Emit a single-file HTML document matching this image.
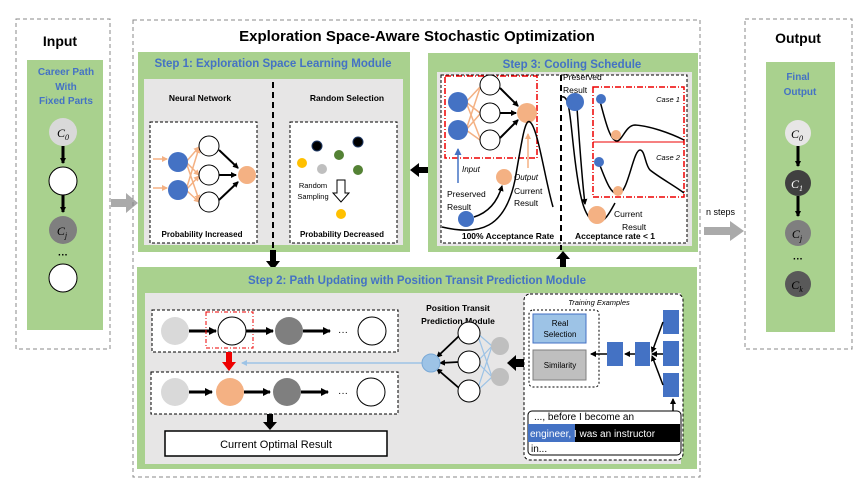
<!DOCTYPE html>
<html><head><meta charset="utf-8"><style>
html,body{margin:0;padding:0;background:#fff;}
svg{display:block;font-family:"Liberation Sans",sans-serif;}
</style></head><body>
<svg width="866" height="493" viewBox="0 0 866 493" xmlns="http://www.w3.org/2000/svg">
<defs>
<marker id="ab" markerWidth="6" markerHeight="6" refX="5" refY="3" orient="auto" markerUnits="userSpaceOnUse"><path d="M0,0 L6,3 L0,6 z" fill="#000"/></marker>
<marker id="abk" markerWidth="8" markerHeight="8" refX="7" refY="4" orient="auto" markerUnits="userSpaceOnUse"><path d="M0,0 L8,4 L0,8 z" fill="#000"/></marker>
<marker id="ao" markerWidth="6" markerHeight="6" refX="5" refY="3" orient="auto" markerUnits="userSpaceOnUse"><path d="M0,0 L6,3 L0,6 z" fill="#f4b183"/></marker>
<marker id="abl" markerWidth="7" markerHeight="7" refX="6" refY="3.5" orient="auto" markerUnits="userSpaceOnUse"><path d="M0,0 L7,3.5 L0,7 z" fill="#4472c4"/></marker>
<marker id="alb" markerWidth="6" markerHeight="6" refX="5" refY="3" orient="auto" markerUnits="userSpaceOnUse"><path d="M0,0 L6,3 L0,6 z" fill="#9dc3e6"/></marker>
</defs>

<!-- Input -->
<rect x="16" y="19" width="94" height="330" fill="none" stroke="#888" stroke-dasharray="4,3"/>
<text x="60" y="46" font-size="14" font-weight="bold" text-anchor="middle">Input</text>
<rect x="27" y="60" width="76" height="270" fill="#a9d18e"/>
<text font-size="10" font-weight="bold" fill="#4472c4" text-anchor="middle"><tspan x="66" y="75">Career Path</tspan><tspan x="66" y="90">With</tspan><tspan x="66" y="104">Fixed Parts</tspan></text>
<circle cx="63" cy="132" r="14" fill="#d9d9d9"/><text x="63" y="137" font-size="12" font-style="italic" text-anchor="middle" font-family="Liberation Serif">C<tspan font-size="8" dy="3">0</tspan></text>
<line x1="63" y1="146" x2="63" y2="163" stroke="#000" stroke-width="3" marker-end="url(#ab)"/>
<circle cx="63" cy="181" r="14" fill="#fff" stroke="#000"/>
<line x1="63" y1="195" x2="63" y2="212" stroke="#000" stroke-width="3" marker-end="url(#ab)"/>
<circle cx="63" cy="230" r="14" fill="#7f7f7f"/><text x="62" y="235" font-size="12" font-style="italic" text-anchor="middle" font-family="Liberation Serif">C<tspan font-size="8" dy="3">j</tspan></text>
<text x="63" y="258" font-size="10" text-anchor="middle" font-weight="bold">···</text>
<circle cx="63" cy="278" r="14" fill="#fff" stroke="#000"/>
<path d="M111,199 L126,199 L126,193 L138,203 L126,213 L126,207 L111,207 z" fill="#aaa"/>

<!-- Main -->
<rect x="133" y="20" width="567" height="457" fill="none" stroke="#888" stroke-dasharray="4,3"/>
<text x="417" y="41" font-size="15" font-weight="bold" text-anchor="middle">Exploration Space-Aware Stochastic Optimization</text>

<!-- Step 1 -->
<rect x="138" y="52" width="272" height="200" fill="#a9d18e"/>
<rect x="144" y="79" width="259" height="166" fill="#e7e6e6"/>
<text x="273" y="67" font-size="11.5" font-weight="bold" fill="#4472c4" text-anchor="middle">Step 1: Exploration Space Learning Module</text>
<line x1="273" y1="82" x2="273" y2="250" stroke="#000" stroke-width="2" stroke-dasharray="6,4"/>
<text x="200" y="101" font-size="8.5" font-weight="bold" text-anchor="middle">Neural Network</text>
<text x="347" y="101" font-size="8.5" font-weight="bold" text-anchor="middle">Random Selection</text>
<rect x="150" y="122" width="107" height="121" fill="#fff" stroke="#000" stroke-dasharray="3,2"/>
<rect x="290" y="122" width="107" height="121" fill="#fff" stroke="#000" stroke-dasharray="3,2"/>
<g stroke="#f4b183" stroke-width="1.5">
<line x1="153" y1="159" x2="167" y2="159" marker-end="url(#ao)"/><line x1="153" y1="188" x2="167" y2="188" marker-end="url(#ao)"/>
<line x1="186" y1="162" x2="199" y2="147" marker-end="url(#ao)"/><line x1="186" y1="162" x2="199" y2="175" marker-end="url(#ao)"/><line x1="186" y1="162" x2="199" y2="200" marker-end="url(#ao)"/>
<line x1="186" y1="190" x2="199" y2="148" marker-end="url(#ao)"/><line x1="186" y1="190" x2="199" y2="176" marker-end="url(#ao)"/><line x1="186" y1="190" x2="199" y2="202" marker-end="url(#ao)"/>
</g>
<circle cx="178" cy="162" r="10" fill="#4472c4"/><circle cx="178" cy="190" r="10" fill="#4472c4"/>
<g stroke="#000" stroke-width="2"><line x1="219" y1="150" x2="238" y2="168" marker-end="url(#ab)"/><line x1="219" y1="175" x2="236" y2="175" marker-end="url(#ab)"/><line x1="219" y1="200" x2="238" y2="182" marker-end="url(#ab)"/></g>
<circle cx="209" cy="146" r="10" fill="#fff" stroke="#000"/><circle cx="209" cy="175" r="10" fill="#fff" stroke="#000"/><circle cx="209" cy="202" r="10" fill="#fff" stroke="#000"/>
<circle cx="247" cy="175" r="9" fill="#f4b183"/>
<text x="202" y="237" font-size="8" font-weight="bold" text-anchor="middle">Probability Increased</text>
<circle cx="317" cy="146" r="5" fill="#000" stroke="#1f3864"/><circle cx="358" cy="142" r="5" fill="#000" stroke="#1f3864"/>
<circle cx="339" cy="155" r="5" fill="#548235"/><circle cx="358" cy="170" r="5" fill="#548235"/>
<circle cx="302" cy="163" r="5" fill="#ffc000"/><circle cx="322" cy="169" r="5" fill="#bfbfbf"/><circle cx="341" cy="214" r="5" fill="#ffc000"/>
<text font-size="7.5" text-anchor="middle"><tspan x="313" y="188">Random</tspan><tspan x="313" y="199">Sampling</tspan></text>
<path d="M337,180 L345,180 L345,193 L349,193 L341,202 L333,193 L337,193 z" fill="#fff" stroke="#000"/>
<text x="342" y="237" font-size="8" font-weight="bold" text-anchor="middle">Probability Decreased</text>

<!-- Step 3 -->
<rect x="428" y="53" width="270" height="199" fill="#a9d18e"/>
<rect x="437" y="72" width="255" height="174" fill="#e7e6e6"/>
<text x="572" y="68" font-size="11.5" font-weight="bold" fill="#4472c4" text-anchor="middle">Step 3: Cooling Schedule</text>
<rect x="441" y="75" width="246" height="168" fill="#fff" stroke="#000" stroke-dasharray="3,2"/>
<line x1="561" y1="75" x2="561" y2="250" stroke="#000" stroke-width="2" stroke-dasharray="6,4"/>
<rect x="445" y="76" width="92" height="82" fill="none" stroke="#e00" stroke-width="1.5" stroke-dasharray="6,2,1,2"/>
<g stroke="#f4b183" stroke-width="1.5">
<line x1="466" y1="102" x2="480" y2="87"/><line x1="466" y1="102" x2="480" y2="113"/><line x1="466" y1="102" x2="480" y2="138"/>
<line x1="466" y1="130" x2="480" y2="88"/><line x1="466" y1="130" x2="480" y2="114"/><line x1="466" y1="130" x2="480" y2="140"/>
</g>
<circle cx="458" cy="102" r="10" fill="#4472c4"/><circle cx="458" cy="130" r="10" fill="#4472c4"/>
<g stroke="#000" stroke-width="2"><line x1="500" y1="88" x2="518" y2="106" marker-end="url(#ab)"/><line x1="500" y1="113" x2="516" y2="113" marker-end="url(#ab)"/><line x1="500" y1="138" x2="518" y2="120" marker-end="url(#ab)"/></g>
<circle cx="490" cy="85" r="10" fill="#fff" stroke="#000"/><circle cx="490" cy="113" r="10" fill="#fff" stroke="#000"/><circle cx="490" cy="140" r="10" fill="#fff" stroke="#000"/>
<circle cx="527" cy="113" r="10" fill="#f4b183"/>
<line x1="458" y1="183" x2="458" y2="149" stroke="#4472c4" stroke-width="1.5" marker-end="url(#abl)"/>
<text x="462" y="172" font-size="8" font-style="italic">Input</text>
<line x1="528" y1="168" x2="528" y2="134" stroke="#f4b183" stroke-width="1.5" marker-end="url(#ao)"/>
<path d="M442,227 C480,236 505,228 515,180 C522,140 525,118 530,122 C538,128 545,180 553,207" fill="none" stroke="#000" stroke-width="1.5"/>
<path d="M474,217 C490,212 498,200 502,186" fill="none" stroke="#000" stroke-width="1.5" marker-end="url(#ab)"/>
<circle cx="504" cy="177" r="8" fill="#f4b183"/>
<circle cx="466" cy="219" r="8" fill="#4472c4"/>
<text x="514" y="180" font-size="8" font-style="italic">Output</text>
<text font-size="8.5"><tspan x="514" y="194">Current</tspan><tspan x="514" y="206">Result</tspan></text>
<text font-size="8.5"><tspan x="447" y="197">Preserved</tspan><tspan x="447" y="210">Result</tspan></text>
<text x="508" y="239" font-size="8.5" font-weight="bold" text-anchor="middle">100% Acceptance Rate</text>
<!-- right panel -->
<text font-size="8.5"><tspan x="563" y="80">Preserved</tspan><tspan x="563" y="93">Result</tspan></text>
<path d="M562,97 C570,95 570,120 575,160 C580,200 585,222 598,222 C605,222 610,212 615,203" fill="none" stroke="#000" stroke-width="1.5"/>
<path d="M577,108 C580,150 582,180 585,204" fill="none" stroke="#000" stroke-width="1.5" marker-end="url(#ab)"/>
<circle cx="575" cy="102" r="9" fill="#4472c4"/>
<circle cx="597" cy="215" r="9" fill="#f4b183"/>
<text font-size="8.5"><tspan x="614" y="217">Current</tspan><tspan x="622" y="230">Result</tspan></text>
<text x="615" y="239" font-size="8.5" font-weight="bold" text-anchor="middle">Acceptance rate &lt; 1</text>
<rect x="593" y="87" width="91" height="110" fill="none" stroke="#e00" stroke-width="1.5" stroke-dasharray="6,2,1,2"/>
<line x1="593" y1="142" x2="684" y2="142" stroke="#e00" stroke-width="1"/>
<text x="668" y="102" font-size="7.5" font-style="italic" text-anchor="middle">Case 1</text>
<text x="668" y="160" font-size="7.5" font-style="italic" text-anchor="middle">Case 2</text>
<path d="M600,101 C605,120 610,141 617,141 C622,141 626,125 635,125 C650,126 670,133 684,140" fill="none" stroke="#000" stroke-width="1.5"/>
<path d="M599,163 C605,178 610,194 618,194 C628,194 633,150 640,150 C645,150 645,165 650,170 C660,178 675,186 684,193" fill="none" stroke="#000" stroke-width="1.5"/>
<circle cx="601" cy="99" r="5" fill="#4472c4"/><circle cx="616" cy="135" r="5" fill="#f4b183"/>
<circle cx="599" cy="162" r="5" fill="#4472c4"/><circle cx="618" cy="191" r="5" fill="#f4b183"/>

<!-- arrows between steps -->
<path d="M410,170 L419,163 L419,167 L428,167 L428,173 L419,173 L419,177 z" fill="#000"/>
<path d="M270,250 L276,250 L276,261 L280,261 L273,270 L266,261 L270,261 z" fill="#000"/>
<path d="M560,267 L566,267 L566,259 L570,259 L563,251 L556,259 L560,259 z" fill="#000"/>

<!-- Step 2 -->
<rect x="137" y="267" width="560" height="202" fill="#a9d18e"/>
<rect x="145" y="293" width="536" height="171" fill="#e7e6e6"/>
<text x="417" y="284" font-size="11.5" font-weight="bold" fill="#4472c4" text-anchor="middle">Step 2: Path Updating with Position Transit Prediction Module</text>
<rect x="152" y="310" width="246" height="42" fill="#fff" stroke="#000" stroke-dasharray="3,2"/>
<circle cx="175" cy="331" r="14" fill="#d9d9d9"/>
<line x1="189" y1="331" x2="216" y2="331" stroke="#000" stroke-width="3" marker-end="url(#abk)"/>
<circle cx="232" cy="331" r="14" fill="#fff" stroke="#000"/>
<rect x="206" y="312" width="47" height="36" fill="none" stroke="#e00" stroke-dasharray="4,2,1,2"/>
<line x1="246" y1="331" x2="273" y2="331" stroke="#000" stroke-width="3" marker-end="url(#abk)"/>
<circle cx="289" cy="331" r="14" fill="#7f7f7f"/>
<line x1="303" y1="331" x2="330" y2="331" stroke="#000" stroke-width="3" marker-end="url(#abk)"/>
<text x="343" y="335" font-size="10" text-anchor="middle">···</text>
<circle cx="372" cy="331" r="14" fill="#fff" stroke="#000"/>
<path d="M226,352 L232,352 L232,362 L236,362 L229,371 L222,362 L226,362 z" fill="#e00"/>
<line x1="426" y1="363" x2="242" y2="363" stroke="#9dc3e6" stroke-width="1.5" marker-end="url(#alb)"/>
<rect x="151" y="372" width="247" height="42" fill="#fff" stroke="#000" stroke-dasharray="3,2"/>
<circle cx="175" cy="392" r="14" fill="#d9d9d9"/>
<line x1="189" y1="392" x2="212" y2="392" stroke="#000" stroke-width="3" marker-end="url(#abk)"/>
<circle cx="230" cy="392" r="14" fill="#f4b183"/>
<line x1="244" y1="392" x2="270" y2="392" stroke="#000" stroke-width="3" marker-end="url(#abk)"/>
<circle cx="287" cy="392" r="14" fill="#7f7f7f"/>
<line x1="301" y1="392" x2="328" y2="392" stroke="#000" stroke-width="3" marker-end="url(#abk)"/>
<text x="343" y="396" font-size="10" text-anchor="middle">···</text>
<circle cx="371" cy="392" r="14" fill="#fff" stroke="#000"/>
<path d="M267,414 L273,414 L273,422 L277,422 L270,430 L263,422 L267,422 z" fill="#000"/>
<rect x="165" y="431" width="222" height="25" fill="#fff" stroke="#000" stroke-width="1.5"/>
<text x="276" y="448" font-size="11" text-anchor="middle">Current Optimal Result</text>
<text font-size="8.5" font-weight="bold" text-anchor="middle"><tspan x="458" y="311">Position Transit</tspan><tspan x="458" y="324">Prediction Module</tspan></text>
<g stroke="#9dc3e6" stroke-width="1.2">
<line x1="477" y1="333" x2="492" y2="346"/><line x1="477" y1="333" x2="492" y2="377"/><line x1="477" y1="362" x2="492" y2="346"/><line x1="477" y1="362" x2="492" y2="377"/><line x1="477" y1="391" x2="492" y2="346"/><line x1="477" y1="391" x2="492" y2="377"/>
</g>
<g stroke="#000" stroke-width="1.8"><line x1="459" y1="336" x2="437" y2="357" marker-end="url(#ab)"/><line x1="459" y1="362" x2="440" y2="363" marker-end="url(#ab)"/><line x1="459" y1="388" x2="437" y2="369" marker-end="url(#ab)"/></g>
<circle cx="469" cy="333" r="11" fill="#fff" stroke="#000"/><circle cx="469" cy="362" r="11" fill="#fff" stroke="#000"/><circle cx="469" cy="391" r="11" fill="#fff" stroke="#000"/>
<circle cx="500" cy="346" r="9" fill="#bfbfbf"/><circle cx="500" cy="377" r="9" fill="#bfbfbf"/>
<circle cx="431" cy="363" r="9" fill="#9dc3e6" stroke="#7aa9d6"/>
<path d="M507,363 L516,355 L516,359 L525,359 L525,367 L516,367 L516,371 z" fill="#000"/>
<rect x="524" y="294" width="159" height="166" rx="6" fill="#fff" stroke="#000" stroke-dasharray="3,2"/>
<text x="599" y="305" font-size="7.5" font-style="italic" text-anchor="middle">Training Examples</text>
<rect x="529" y="310" width="70" height="77" rx="4" fill="#fff" stroke="#000" stroke-dasharray="2,2"/>
<rect x="533" y="314" width="53" height="29" fill="#9dc3e6" stroke="#4472c4"/>
<text font-size="8" text-anchor="middle"><tspan x="560" y="326">Real</tspan><tspan x="560" y="337">Selection</tspan></text>
<rect x="533" y="350" width="53" height="30" fill="#bfbfbf" stroke="#7f7f7f"/>
<text x="560" y="368" font-size="8" text-anchor="middle">Similarity</text>
<rect x="607" y="342" width="16" height="24" fill="#4472c4"/>
<rect x="635" y="342" width="15" height="24" fill="#4472c4"/>
<rect x="663" y="310" width="16" height="24" fill="#4472c4"/>
<rect x="663" y="341" width="16" height="25" fill="#4472c4"/>
<rect x="663" y="373" width="16" height="24" fill="#4472c4"/>
<g stroke="#000" stroke-width="1.5">
<line x1="607" y1="354" x2="591" y2="354" marker-end="url(#ab)"/>
<line x1="635" y1="354" x2="625" y2="354" marker-end="url(#ab)"/>
<line x1="663" y1="322" x2="652" y2="352" marker-end="url(#ab)"/>
<line x1="663" y1="354" x2="652" y2="354" marker-end="url(#ab)"/>
<line x1="663" y1="385" x2="652" y2="356" marker-end="url(#ab)"/>
<line x1="673" y1="412" x2="673" y2="399" marker-end="url(#ab)"/>
</g>
<rect x="528" y="411" width="153" height="44" rx="4" fill="#fff" stroke="#000"/>
<rect x="528" y="424" width="47" height="18" fill="#4472c4"/>
<rect x="575" y="424" width="105" height="18" fill="#000"/>
<text x="534" y="420" font-size="10">..., before I become an</text>
<text x="530" y="437" font-size="10" fill="#fff">engineer, I was an instructor</text>
<text x="531" y="452" font-size="10">in...</text>

<!-- Output -->
<text x="706" y="215" font-size="9">n steps</text>
<path d="M704,227 L730,227 L730,221 L744,231 L730,241 L730,235 L704,235 z" fill="#aaa"/>
<rect x="745" y="19" width="107" height="330" fill="none" stroke="#888" stroke-dasharray="4,3"/>
<text x="798" y="43" font-size="14" font-weight="bold" text-anchor="middle">Output</text>
<rect x="766" y="62" width="69" height="270" fill="#a9d18e"/>
<text font-size="10" font-weight="bold" fill="#4472c4" text-anchor="middle"><tspan x="798" y="80">Final</tspan><tspan x="800" y="95">Output</tspan></text>
<circle cx="798" cy="133" r="13" fill="#e7e6e6"/><text x="797" y="138" font-size="12" font-style="italic" text-anchor="middle" font-family="Liberation Serif">C<tspan font-size="8" dy="3">0</tspan></text>
<line x1="798" y1="146" x2="798" y2="166" stroke="#000" stroke-width="3" marker-end="url(#ab)"/>
<circle cx="798" cy="183" r="13" fill="#404040"/><text x="797" y="188" font-size="12" font-style="italic" text-anchor="middle" fill="#fff" font-family="Liberation Serif">C<tspan font-size="8" dy="3">1</tspan></text>
<line x1="798" y1="196" x2="798" y2="216" stroke="#000" stroke-width="3" marker-end="url(#ab)"/>
<circle cx="798" cy="233" r="13" fill="#7f7f7f"/><text x="797" y="238" font-size="12" font-style="italic" text-anchor="middle" font-family="Liberation Serif">C<tspan font-size="8" dy="3">j</tspan></text>
<text x="798" y="262" font-size="10" text-anchor="middle" font-weight="bold">···</text>
<circle cx="798" cy="284" r="13" fill="#595959"/><text x="797" y="289" font-size="12" font-style="italic" text-anchor="middle" font-family="Liberation Serif">C<tspan font-size="8" dy="3">k</tspan></text>
</svg>
</body></html>
